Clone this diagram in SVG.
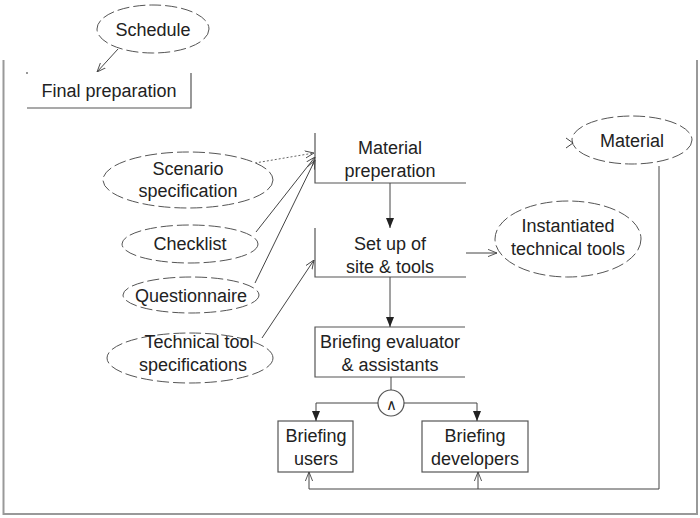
<svg xmlns="http://www.w3.org/2000/svg" width="700" height="518" viewBox="0 0 700 518">
<style>
text{font-family:"Liberation Sans",Arial,sans-serif;font-size:18px;fill:#222;text-anchor:middle}
.ell{fill:none;stroke:#555;stroke-width:1;stroke-dasharray:12 4}
.box{fill:none;stroke:#555;stroke-width:1.2}
.frame{fill:none;stroke:#999;stroke-width:2}
.con{fill:none;stroke:#444;stroke-width:1}
.dot{fill:none;stroke:#666;stroke-width:1;stroke-dasharray:2 2}
</style>
<defs>
<marker id="open" viewBox="0 0 10 10" refX="10" refY="5" markerWidth="9" markerHeight="9" orient="auto" markerUnits="userSpaceOnUse">
<path d="M0,1 L10,5 L0,9" fill="none" stroke="#444" stroke-width="1"/>
</marker>
<marker id="fill" viewBox="0 0 10 10" refX="10" refY="5" markerWidth="10" markerHeight="10" orient="auto" markerUnits="userSpaceOnUse">
<path d="M0,1 L10,5 L0,9 Z" fill="#222"/>
</marker>
</defs>
<g id="frame">
<path class="frame" d="M3.5,60 V514 H697 V60"/>
</g>
<g id="schedule">
<ellipse class="ell" cx="153" cy="29" rx="56" ry="24"/>
<text x="153" y="36">Schedule</text>
</g>
<g id="final-preparation">
<path class="box" d="M27,72 V74 M191,73 V108 H27"/>
<text x="109" y="97">Final preparation</text>
</g>
<g id="material-preparation">
<path class="box" d="M315,133 V183 H466"/>
<text x="390" y="154">Material</text>
<text x="390" y="177">preperation</text>
</g>
<g id="setup">
<path class="box" d="M315,228 V277 H466"/>
<text x="390" y="250">Set up of</text>
<text x="390" y="273">site &amp; tools</text>
</g>
<g id="briefing-evaluator">
<path class="box" d="M465,327 H315 V377 H465"/>
<text x="390" y="348">Briefing evaluator</text>
<text x="390" y="371">&amp; assistants</text>
</g>
<g id="and">
<circle class="box" cx="391" cy="403" r="13"/>
<text x="391" y="410" style="font-size:15px">∧</text>
</g>
<g id="briefing-users">
<rect class="box" x="278" y="421" width="75" height="51"/>
<text x="316" y="442">Briefing</text>
<text x="316" y="465">users</text>
</g>
<g id="briefing-developers">
<rect class="box" x="422" y="421" width="106" height="51"/>
<text x="475" y="442">Briefing</text>
<text x="475" y="465">developers</text>
</g>
<g id="material">
<ellipse class="ell" cx="632" cy="140" rx="60" ry="24"/>
<text x="632" y="147">Material</text>
</g>
<g id="instantiated-tools">
<ellipse class="ell" cx="568" cy="239" rx="73" ry="38"/>
<text x="568" y="232">Instantiated</text>
<text x="568" y="255">technical tools</text>
</g>
<g id="scenario">
<ellipse class="ell" cx="188" cy="180" rx="85" ry="28"/>
<text x="188" y="175">Scenario</text>
<text x="188" y="197">specification</text>
</g>
<g id="checklist">
<ellipse class="ell" cx="190" cy="244" rx="68" ry="19"/>
<text x="190" y="250">Checklist</text>
</g>
<g id="questionnaire">
<ellipse class="ell" cx="191" cy="295" rx="68" ry="18"/>
<text x="191" y="302">Questionnaire</text>
</g>
<g id="technical-tool-spec">
<ellipse class="ell" cx="190" cy="358" rx="83" ry="25"/>
<text x="199" y="348">Technical tool</text>
<text x="193" y="371">specifications</text>
</g>
<g id="connectors">
<path class="con" d="M118,49 L97,72" marker-end="url(#open)"/>
<path class="dot" d="M255,163 L314,153" marker-end="url(#open)"/>
<path class="con" d="M256,232 L315,157" marker-end="url(#open)"/>
<path class="con" d="M255,283 L315,160" marker-end="url(#open)"/>
<path class="con" d="M262,338 L314,260" marker-end="url(#open)"/>
<path class="con" d="M390,183 V228" marker-end="url(#fill)"/>
<path class="con" d="M390,277 V327" marker-end="url(#fill)"/>
<path class="con" d="M466,253 H497" marker-end="url(#open)"/>
<path class="con" d="M566,138 L573,143 L566,148"/>
<path class="con" d="M391,377 V390"/>
<path class="con" d="M378,403 H316 V421" marker-end="url(#fill)"/>
<path class="con" d="M404,403 H477 V421" marker-end="url(#fill)"/>
<path class="con" d="M659,166 V489 H309 V472" marker-end="url(#open)"/>
<path class="con" d="M478,489 V472" marker-end="url(#open)"/>
</g>
</svg>
